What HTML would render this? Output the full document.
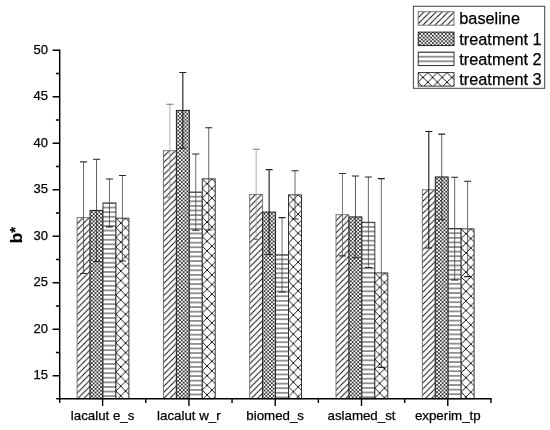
<!DOCTYPE html>
<html><head><meta charset="utf-8"><title>chart</title>
<style>html,body{margin:0;padding:0;background:#fff;}svg{display:block;}</style></head>
<body>
<svg width="550" height="430" viewBox="0 0 550 430">
<defs>
<pattern id="pb" width="6.05" height="6.05" patternUnits="userSpaceOnUse">
<path d="M-1,7.05 L7.05,-1 M-1,1 L1,-1 M5.05,7.05 L7.05,5.05" stroke="#000" stroke-width="0.9" fill="none"/></pattern>
<pattern id="p1" width="3.68" height="3.68" patternUnits="userSpaceOnUse">
<path d="M-1,4.68 L4.68,-1 M-1,1 L1,-1 M2.68,4.68 L4.68,2.68 M-1,-1 L4.68,4.68 M2.68,-1 L4.68,1 M-1,2.68 L1,4.68" stroke="#000" stroke-width="0.72" fill="none"/></pattern>
<pattern id="p2" width="10" height="4.6" patternUnits="userSpaceOnUse">
<path d="M0,0 L10,0 M0,4.6 L10,4.6" stroke="#111" stroke-width="0.9" fill="none"/></pattern>
<pattern id="p3" width="9.6" height="9.6" patternUnits="userSpaceOnUse">
<path d="M-1,10.6 L10.6,-1 M-1,1 L1,-1 M8.6,10.6 L10.6,8.6 M-1,-1 L10.6,10.6 M8.6,-1 L10.6,1 M-1,8.6 L1,10.6" stroke="#000" stroke-width="0.9" fill="none"/></pattern>
</defs>
<rect width="550" height="430" fill="#fff"/>
<g transform="translate(77.10,217.65)"><rect width="12.95" height="181.05" fill="#fff"/><rect width="12.95" height="181.05" fill="url(#pb)" stroke="#6a6a6a" stroke-width="0.9"/></g>
<g transform="translate(90.05,210.39)"><rect width="12.95" height="188.31" fill="#fff"/><rect width="12.95" height="188.31" fill="url(#p1)" stroke="#111" stroke-width="0.9"/></g>
<g transform="translate(103.00,202.96)"><rect width="12.95" height="195.74" fill="#fff"/><rect width="12.95" height="195.74" fill="url(#p2)" stroke="#222" stroke-width="0.9"/></g>
<g transform="translate(115.95,218.20)"><rect width="12.95" height="180.50" fill="#fff"/><rect width="12.95" height="180.50" fill="url(#p3)" stroke="#222" stroke-width="0.9"/></g>
<g transform="translate(163.40,150.71)"><rect width="12.95" height="247.99" fill="#fff"/><rect width="12.95" height="247.99" fill="url(#pb)" stroke="#6a6a6a" stroke-width="0.9"/></g>
<g transform="translate(176.35,110.36)"><rect width="12.95" height="288.34" fill="#fff"/><rect width="12.95" height="288.34" fill="url(#p1)" stroke="#111" stroke-width="0.9"/></g>
<g transform="translate(189.30,192.08)"><rect width="12.95" height="206.62" fill="#fff"/><rect width="12.95" height="206.62" fill="url(#p2)" stroke="#222" stroke-width="0.9"/></g>
<g transform="translate(202.25,178.88)"><rect width="12.95" height="219.82" fill="#fff"/><rect width="12.95" height="219.82" fill="url(#p3)" stroke="#222" stroke-width="0.9"/></g>
<g transform="translate(249.70,194.40)"><rect width="12.95" height="204.30" fill="#fff"/><rect width="12.95" height="204.30" fill="url(#pb)" stroke="#6a6a6a" stroke-width="0.9"/></g>
<g transform="translate(262.65,212.07)"><rect width="12.95" height="186.63" fill="#fff"/><rect width="12.95" height="186.63" fill="url(#p1)" stroke="#111" stroke-width="0.9"/></g>
<g transform="translate(275.60,254.83)"><rect width="12.95" height="143.87" fill="#fff"/><rect width="12.95" height="143.87" fill="url(#p2)" stroke="#222" stroke-width="0.9"/></g>
<g transform="translate(288.55,194.87)"><rect width="12.95" height="203.83" fill="#fff"/><rect width="12.95" height="203.83" fill="url(#p3)" stroke="#222" stroke-width="0.9"/></g>
<g transform="translate(336.00,214.67)"><rect width="12.95" height="184.03" fill="#fff"/><rect width="12.95" height="184.03" fill="url(#pb)" stroke="#6a6a6a" stroke-width="0.9"/></g>
<g transform="translate(348.95,216.90)"><rect width="12.95" height="181.80" fill="#fff"/><rect width="12.95" height="181.80" fill="url(#p1)" stroke="#111" stroke-width="0.9"/></g>
<g transform="translate(361.90,222.29)"><rect width="12.95" height="176.41" fill="#fff"/><rect width="12.95" height="176.41" fill="url(#p2)" stroke="#222" stroke-width="0.9"/></g>
<g transform="translate(374.85,272.96)"><rect width="12.95" height="125.74" fill="#fff"/><rect width="12.95" height="125.74" fill="url(#p3)" stroke="#222" stroke-width="0.9"/></g>
<g transform="translate(422.30,189.75)"><rect width="12.95" height="208.94" fill="#fff"/><rect width="12.95" height="208.94" fill="url(#pb)" stroke="#6a6a6a" stroke-width="0.9"/></g>
<g transform="translate(435.25,176.93)"><rect width="12.95" height="221.77" fill="#fff"/><rect width="12.95" height="221.77" fill="url(#p1)" stroke="#111" stroke-width="0.9"/></g>
<g transform="translate(448.20,228.62)"><rect width="12.95" height="170.08" fill="#fff"/><rect width="12.95" height="170.08" fill="url(#p2)" stroke="#222" stroke-width="0.9"/></g>
<g transform="translate(461.15,228.90)"><rect width="12.95" height="169.80" fill="#fff"/><rect width="12.95" height="169.80" fill="url(#p3)" stroke="#222" stroke-width="0.9"/></g>
<path d="M83.57,161.86 L83.57,273.43" stroke="#555" stroke-width="0.9" fill="none"/>
<path d="M80.07,161.86 L87.07,161.86 M80.07,273.43 L87.07,273.43" stroke="#333" stroke-width="1.1" fill="none"/>
<path d="M96.52,159.26 L96.52,261.53" stroke="#333" stroke-width="0.8" fill="none"/>
<path d="M93.02,159.26 L100.02,159.26 M93.02,261.53 L100.02,261.53" stroke="#222" stroke-width="1.1" fill="none"/>
<path d="M109.47,179.06 L109.47,226.85" stroke="#444" stroke-width="0.8" fill="none"/>
<path d="M105.97,179.06 L112.97,179.06 M105.97,226.85 L112.97,226.85" stroke="#222" stroke-width="1.1" fill="none"/>
<path d="M122.42,175.44 L122.42,260.97" stroke="#444" stroke-width="0.8" fill="none"/>
<path d="M118.92,175.44 L125.92,175.44 M118.92,260.97 L125.92,260.97" stroke="#222" stroke-width="1.1" fill="none"/>
<path d="M169.88,104.22 L169.88,197.19" stroke="#999" stroke-width="0.8" fill="none"/>
<path d="M166.38,104.22 L173.38,104.22 M166.38,197.19 L173.38,197.19" stroke="#777" stroke-width="1.1" fill="none"/>
<path d="M182.82,72.52 L182.82,148.20" stroke="#222" stroke-width="1.15" fill="none"/>
<path d="M179.32,72.52 L186.32,72.52 M179.32,148.20 L186.32,148.20" stroke="#222" stroke-width="1.1" fill="none"/>
<path d="M195.78,153.96 L195.78,230.20" stroke="#444" stroke-width="0.8" fill="none"/>
<path d="M192.28,153.96 L199.28,153.96 M192.28,230.20 L199.28,230.20" stroke="#222" stroke-width="1.1" fill="none"/>
<path d="M208.72,127.74 L208.72,230.01" stroke="#444" stroke-width="0.8" fill="none"/>
<path d="M205.22,127.74 L212.22,127.74 M205.22,230.01 L212.22,230.01" stroke="#222" stroke-width="1.1" fill="none"/>
<path d="M256.18,149.31 L256.18,239.49" stroke="#999" stroke-width="0.8" fill="none"/>
<path d="M252.68,149.31 L259.68,149.31 M252.68,239.49 L259.68,239.49" stroke="#777" stroke-width="1.1" fill="none"/>
<path d="M269.13,169.58 L269.13,254.56" stroke="#222" stroke-width="1.15" fill="none"/>
<path d="M265.63,169.58 L272.63,169.58 M265.63,254.56 L272.63,254.56" stroke="#222" stroke-width="1.1" fill="none"/>
<path d="M282.08,217.65 L282.08,292.02" stroke="#444" stroke-width="0.8" fill="none"/>
<path d="M278.58,217.65 L285.58,217.65 M278.58,292.02 L285.58,292.02" stroke="#222" stroke-width="1.1" fill="none"/>
<path d="M295.03,170.70 L295.03,219.04" stroke="#444" stroke-width="0.8" fill="none"/>
<path d="M291.53,170.70 L298.53,170.70 M291.53,219.04 L298.53,219.04" stroke="#222" stroke-width="1.1" fill="none"/>
<path d="M342.48,173.49 L342.48,255.86" stroke="#666" stroke-width="0.85" fill="none"/>
<path d="M338.98,173.49 L345.98,173.49 M338.98,255.86 L345.98,255.86" stroke="#333" stroke-width="1.1" fill="none"/>
<path d="M355.43,176.00 L355.43,257.81" stroke="#333" stroke-width="0.8" fill="none"/>
<path d="M351.93,176.00 L358.93,176.00 M351.93,257.81 L358.93,257.81" stroke="#222" stroke-width="1.1" fill="none"/>
<path d="M368.38,177.02 L368.38,267.57" stroke="#444" stroke-width="0.8" fill="none"/>
<path d="M364.88,177.02 L371.88,177.02 M364.88,267.57 L371.88,267.57" stroke="#222" stroke-width="1.1" fill="none"/>
<path d="M381.33,178.60 L381.33,367.33" stroke="#444" stroke-width="0.8" fill="none"/>
<path d="M377.83,178.60 L384.83,178.60 M377.83,367.33 L384.83,367.33" stroke="#222" stroke-width="1.1" fill="none"/>
<path d="M428.78,131.56 L428.78,247.95" stroke="#222" stroke-width="1.15" fill="none"/>
<path d="M425.28,131.56 L432.28,131.56 M425.28,247.95 L432.28,247.95" stroke="#111" stroke-width="1.1" fill="none"/>
<path d="M441.73,134.16 L441.73,219.69" stroke="#333" stroke-width="0.8" fill="none"/>
<path d="M438.23,134.16 L445.23,134.16 M438.23,219.69 L445.23,219.69" stroke="#222" stroke-width="1.1" fill="none"/>
<path d="M454.68,177.20 L454.68,280.03" stroke="#444" stroke-width="0.8" fill="none"/>
<path d="M451.18,177.20 L458.18,177.20 M451.18,280.03 L458.18,280.03" stroke="#222" stroke-width="1.1" fill="none"/>
<path d="M467.62,181.20 L467.62,276.59" stroke="#444" stroke-width="0.8" fill="none"/>
<path d="M464.12,181.20 L471.12,181.20 M464.12,276.59 L471.12,276.59" stroke="#222" stroke-width="1.1" fill="none"/>
<path d="M59.70,49.60 L59.70,399.45" stroke="#000" stroke-width="1.45" fill="none"/>
<path d="M56.2,398.70 L491.6,398.70" stroke="#000" stroke-width="1.45" fill="none"/>
<path d="M52.60,50.30 L59.70,50.30 M55.90,73.54 L59.70,73.54 M52.60,96.78 L59.70,96.78 M55.90,120.03 L59.70,120.03 M52.60,143.27 L59.70,143.27 M55.90,166.51 L59.70,166.51 M52.60,189.75 L59.70,189.75 M55.90,213.00 L59.70,213.00 M52.60,236.24 L59.70,236.24 M55.90,259.48 L59.70,259.48 M52.60,282.73 L59.70,282.73 M55.90,305.97 L59.70,305.97 M52.60,329.21 L59.70,329.21 M55.90,352.45 L59.70,352.45 M52.60,375.70 L59.70,375.70" stroke="#000" stroke-width="1.4" fill="none"/>
<path d="M102.60,398.70 L102.60,405.90 M188.90,398.70 L188.90,405.90 M275.20,398.70 L275.20,405.90 M361.50,398.70 L361.50,405.90 M447.80,398.70 L447.80,405.90 M59.70,398.70 L59.70,402.90 M145.75,398.70 L145.75,402.90 M232.05,398.70 L232.05,402.90 M318.35,398.70 L318.35,402.90 M404.65,398.70 L404.65,402.90 M490.95,398.70 L490.95,402.90" stroke="#000" stroke-width="1.4" fill="none"/>
<g font-family="Liberation Sans, Arial, sans-serif" font-size="13" fill="#000" stroke="#000" stroke-width="0.25">
<text x="47.9" y="53.60" text-anchor="end">50</text>
<text x="47.9" y="100.08" text-anchor="end">45</text>
<text x="47.9" y="146.57" text-anchor="end">40</text>
<text x="47.9" y="193.06" text-anchor="end">35</text>
<text x="47.9" y="239.54" text-anchor="end">30</text>
<text x="47.9" y="286.03" text-anchor="end">25</text>
<text x="47.9" y="332.51" text-anchor="end">20</text>
<text x="47.9" y="379.00" text-anchor="end">15</text>
<text x="102.60" y="419.6" text-anchor="middle" font-size="13.3">lacalut e_s</text>
<text x="188.90" y="419.6" text-anchor="middle" font-size="13.3">lacalut w_r</text>
<text x="275.20" y="419.6" text-anchor="middle" font-size="13.3">biomed_s</text>
<text x="361.50" y="419.6" text-anchor="middle" font-size="13.3">aslamed_st</text>
<text x="447.80" y="419.6" text-anchor="middle" font-size="13.3">experim_tp</text>
</g>
<text transform="translate(22.3,243.2) rotate(-90)" font-family="Liberation Sans, Arial, sans-serif" font-size="17" font-weight="bold" fill="#000" stroke="#000" stroke-width="0.2">b<tspan font-size="14.8" dy="-2.7">*</tspan></text>
<rect x="413.4" y="6.3" width="131.3" height="82" fill="#fff" stroke="#444" stroke-width="1"/>
<g transform="translate(418.2,11.70)"><rect width="35.8" height="13.5" fill="url(#pb)" stroke="#6a6a6a" stroke-width="0.9"/></g>
<text x="459.3" y="24.10" font-family="Liberation Sans, Arial, sans-serif" font-size="16.3" fill="#000" stroke="#000" stroke-width="0.25">baseline</text>
<g transform="translate(418.2,32.10)"><rect width="35.8" height="13.5" fill="url(#p1)" stroke="#111" stroke-width="0.9"/></g>
<text x="459.3" y="44.50" font-family="Liberation Sans, Arial, sans-serif" font-size="16.3" fill="#000" stroke="#000" stroke-width="0.25">treatment 1</text>
<g transform="translate(418.2,52.10)"><rect width="35.8" height="13.5" fill="url(#p2)" stroke="#222" stroke-width="0.9"/></g>
<text x="459.3" y="64.50" font-family="Liberation Sans, Arial, sans-serif" font-size="16.3" fill="#000" stroke="#000" stroke-width="0.25">treatment 2</text>
<g transform="translate(418.2,72.60)"><rect width="35.8" height="13.5" fill="url(#p3)" stroke="#222" stroke-width="0.9"/></g>
<text x="459.3" y="85.00" font-family="Liberation Sans, Arial, sans-serif" font-size="16.3" fill="#000" stroke="#000" stroke-width="0.25">treatment 3</text>
</svg>
</body></html>
